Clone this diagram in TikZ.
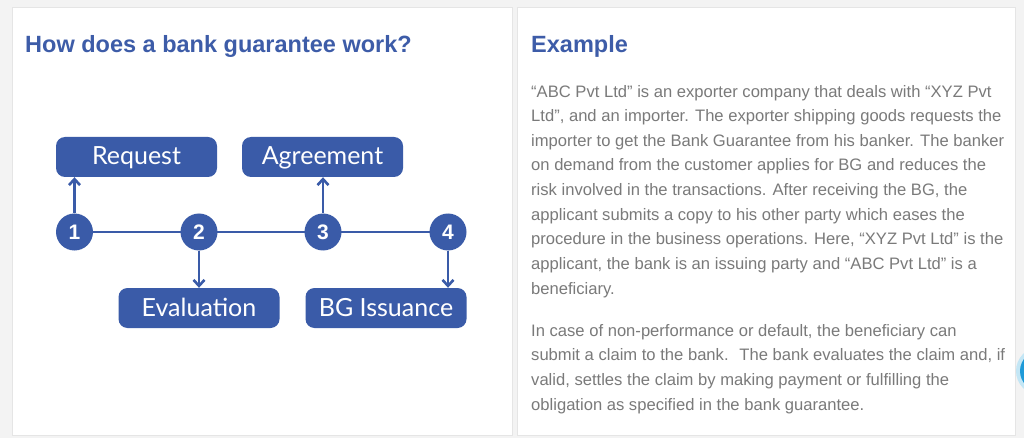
\documentclass[tikz,border=0pt]{standalone}
\usepackage{fontspec}
\setmainfont{Liberation Sans}
\newfontfamily\boxfont{Lato}
\usetikzlibrary{arrows.meta, positioning}
\definecolor{gbblue}{HTML}{3A5BA8}
\definecolor{headblue}{HTML}{3D5CA8}
\definecolor{bodygray}{HTML}{7A7A7A}
\definecolor{pagebg}{HTML}{F3F3F3}
\definecolor{chatblue}{HTML}{1E9AD8}
\definecolor{chathalo}{HTML}{C3E6F5}

\begin{document}
\begin{tikzpicture}[x=1pt, y=-1pt,
    panel/.style={fill=white, draw=black!10, line width=1pt},
    stepbox/.style={rectangle, rounded corners=9pt, fill=gbblue, text=white, minimum width=161pt, minimum height=40pt, inner sep=0pt, text height=17pt, text depth=1pt, font=\boxfont\fontsize{25}{27}\selectfont},
    stepnum/.style={circle, fill=gbblue, text=white, minimum size=37pt, inner sep=0pt, font=\bfseries\fontsize{21}{23}\selectfont},
    link/.style={line width=2.6pt, draw=gbblue},
    arrow/.style={-{Straight Barb[length=6pt, width=11pt]}, line width=2.6pt, draw=gbblue},
    title/.style={anchor=base west, inner sep=0pt, text=headblue, font=\bfseries\fontsize{23.5}{26}\selectfont},
    body/.style={anchor=base west, inner sep=0pt, align=left, text=bodygray, font=\fontsize{16.6}{24.6}\selectfont}
  ]
    \useasboundingbox (0,0) rectangle (1024,438);
    \fill[pagebg] (0,0) rectangle (1024,438);

    % the two cards
    \draw[panel] (12,8) rectangle (512,435);
    \draw[panel] (517,8) rectangle (1015,435);

    % left card: process
    \node[title] (howtitle) at (25,53) {How does a bank guarantee work?};

    \node[stepbox] (request) at (136.5,157) {Request};
    \node[stepbox] (agreement) at (322.5,157) {Agreement};
    \node[stepbox] (evaluation) at (199,308) {Evaluation};
    \node[stepbox] (issuance) at (386,308) {BG Issuance};

    \draw[link] (74.5,232) -- (448,232);
    \node[stepnum] (s1) at (74.5,232) {1};
    \node[stepnum] (s2) at (199,232) {2};
    \node[stepnum] (s3) at (323,232) {3};
    \node[stepnum] (s4) at (448,232) {4};

    \draw[arrow] (s1.north) -- (s1.north |- request.south);
    \draw[arrow] (s3.north) -- (s3.north |- agreement.south);
    \draw[arrow] (s2.south) -- (s2.south |- evaluation.north);
    \draw[arrow] (s4.south) -- (s4.south |- issuance.north);

    % right card: example text (base = last line)
    \node[title] (extitle) at (531,53) {Example};
    \node[body] (para1) at (531,294) {“ABC Pvt Ltd” is an exporter company that deals with “XYZ Pvt\\
      Ltd”, and an importer. The exporter shipping goods requests the\\
      importer to get the Bank Guarantee from his banker. The banker\\
      on demand from the customer applies for BG and reduces the\\
      risk involved in the transactions. After receiving the BG, the\\
      applicant submits a copy to his other party which eases the\\
      procedure in the business operations. Here, “XYZ Pvt Ltd” is the\\
      applicant, the bank is an issuing party and “ABC Pvt Ltd” is a\\
      beneficiary.};
    \node[body] (para2) at (531,410) {In case of non-performance or default, the beneficiary can\\
      submit a claim to the bank.~ The bank evaluates the claim and, if\\
      valid, settles the claim by making payment or fulfilling the\\
      obligation as specified in the bank guarantee.};

    % chat button cut by the edge
    \fill[chathalo] (1040,371) circle (24);
    \fill[chatblue] (1040,371) circle (20);
\end{tikzpicture}
\end{document}
